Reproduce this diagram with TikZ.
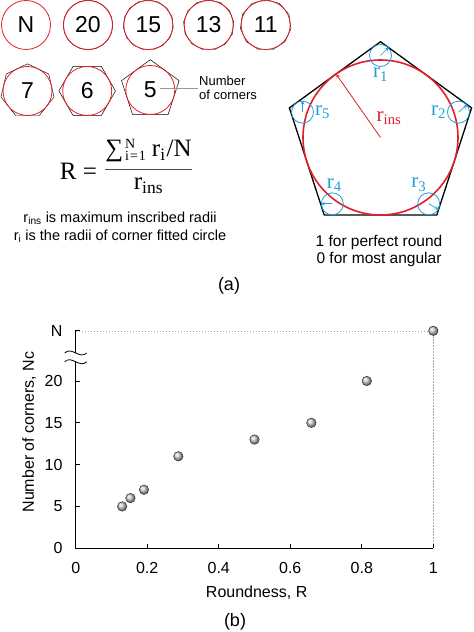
\documentclass[tikz,border=0pt]{standalone}
\usepackage{fontspec}
\setsansfont{Liberation Sans}
\newfontfamily\fmlfont{Liberation Serif}
\usetikzlibrary{calc,arrows,positioning}
\definecolor{ringred}{RGB}{226,30,38}
\definecolor{cornerblue}{RGB}{30,158,220}
\newcommand{\polyaround}[5]{% node, sides, start angle, inradius, width
  \pgfmathsetmacro{\polyrad}{#4/cos(180/#2)}
  \pgfmathtruncatemacro{\polylast}{#2-1}
  \draw[line width=#5, line join=miter] ($(#1)+(#3:\polyrad)$)
    \foreach \k in {1,...,\polylast} { -- ($(#1)+(#3+\k*360/#2:\polyrad)$) } -- cycle;
}
\tikzset{
  ringnode/.style={circle, draw=ringred, line width=0.8pt, minimum size=49pt, inner sep=0pt, font=\sffamily\fontsize{23}{23}\selectfont},
  cornercirc/.style={circle, draw=cornerblue, line width=0.8pt, minimum size=22pt, inner sep=0pt},
  cornerlab/.style={text=cornerblue, font=\fmlfont\fontsize{21}{21}\selectfont, inner sep=1pt},
  cornerarrow/.style={draw=cornerblue, line width=0.7pt, ->, >=stealth},
  fmla/.style={font=\fmlfont\fontsize{25}{25}\selectfont, inner sep=0pt},
  textlab/.style={font=\sffamily\fontsize{14.5}{17}\selectfont, align=center},
  ticklab/.style={font=\sffamily\fontsize{16}{16}\selectfont, inner sep=0pt},
  axisline/.style={draw=black, line width=0.8pt},
  guide/.style={draw=gray!70, line width=0.6pt, dash pattern=on 1.5pt off 1.5pt},
  datapt/.style={circle, draw=black!80, line width=0.5pt, ball color=gray!40, minimum size=9.5pt, inner sep=0pt}
}

\begin{document}
\begin{tikzpicture}[x=1pt, y=1pt]
  \useasboundingbox (0,0) rectangle (474,632);

  % (a) rings and polygons
  \coordinate (ringcN) at (26,607);
  \coordinate (ringc20) at (88,607);
  \coordinate (ringc15) at (148.3,607);
  \coordinate (ringc13) at (208.7,607);
  \coordinate (ringc11) at (265.7,607);
  \coordinate (ringc7) at (27.5,541);
  \coordinate (ringc6) at (87.2,541);
  \coordinate (ringc5) at (150.3,542);
  \foreach \n in {20,15,13,11,7} {\polyaround{ringc\n}{\n}{90}{24.5}{0.45pt}}
  \polyaround{ringc6}{6}{0}{24.5}{0.5pt}
  \polyaround{ringc5}{5}{90}{24.5}{0.5pt}
  \foreach \n in {N,20,15,13,11,7,6,5}
    \node[ringnode] (ring\n) at (ringc\n) {\n};

  \node[textlab, font=\sffamily\fontsize{13}{14.5}\selectfont, align=left, anchor=west, inner sep=1pt] (ncorner) at (198,544) {Number\\of corners};
  \coordinate (fivetail) at (159.5,544);
  \draw[gray!80, line width=0.6pt] (fivetail) -- (ncorner.west);

  % roundness formula
  \coordinate (barmid) at (148.5,463);
  \node[fmla, above=7pt] (numer) at (barmid) {∑\hspace{2pt}\raisebox{-4pt}{\fontsize{14}{16}\selectfont\shortstack[l]{N\\i\hspace{1pt}=\hspace{1pt}1}}\hspace{6pt}r\textsubscript{i}\hspace{1pt}/N};
  \node[fmla, below=9pt] (denom) at (barmid) {r\textsubscript{ins}};
  \draw[line width=0.6pt, black!70] (numer.west |- barmid) -- (numer.east |- barmid);
  \node[fmla, anchor=east, yshift=-2pt] (lhs) at ([xshift=-8pt]numer.west |- barmid) {R =};
  \node[textlab] (defins) at (120,414) {r\textsubscript{ins} is maximum inscribed radii};
  \node[textlab] (defri) at (120,396) {r\textsubscript{i} is the radii of corner fitted circle};

  % pentagon with inscribed circle
  \coordinate (pentc) at (380.5,494.5);
  \polyaround{pentc}{5}{90}{77.5}{1.3pt}
  \node[circle, draw=ringred, line width=1.6pt, minimum size=155pt, inner sep=0pt] (inscr) at (pentc) {};
  \foreach \a/\i/\d in {90/1/45, 18/2/40, -54/3/-30, -126/4/180, 162/5/90} {
    \node[cornercirc] (crn\i) at ($(pentc)+(\a:82)$) {};
    \draw[cornerarrow] (crn\i.center) -- (crn\i.\d);
  }
  \node[cornerlab, below=0pt of crn1] (lab1) {r\textsubscript{1}};
  \node[cornerlab, left=0pt of crn2] (lab2) {r\textsubscript{2}};
  \node[cornerlab, above=0pt of crn3, xshift=-10pt] (lab3) {r\textsubscript{3}};
  \node[cornerlab, above=0pt of crn4, xshift=2pt] (lab4) {r\textsubscript{4}};
  \node[cornerlab, right=0pt of crn5] (lab5) {r\textsubscript{5}};
  \node[cornerlab, text=ringred] (rinslab) at (389,514) {r\textsubscript{ins}};
  \draw[->, >=stealth, draw=ringred, line width=0.8pt, shorten >=1pt] (inscr.center) -- (inscr.125.5);

  \node[textlab, font=\sffamily\fontsize{15.5}{16.3}\selectfont] (roundnote) at (379,381) {1 for perfect round\\0 for most angular};
  \node[font=\sffamily\fontsize{18}{18}\selectfont] (capa) at (229,346) {(a)};

  % (b) roundness vs corners
  \begin{scope}[shift={(75.7,83.7)}, x=357.6pt, y=8.365pt]
    \coordinate (org) at (0,0);
    \coordinate (xend) at (1,0);
    \coordinate (ybrklo) at (0,22.3);
    \coordinate (ybrkhi) at (0,23.35);
    \coordinate (ytop) at (0,26);
    \coordinate (corner) at (1,26);
    \draw[guide] (ytop) -- (corner) -- (xend);
    \draw[axisline] (ybrklo) -- (org) -- (xend);
    \draw[axisline] (ybrkhi) -- (ytop) -- ++(4pt,0pt);
    \foreach \b in {ybrklo,ybrkhi}
      \draw[axisline] ($(\b)+(-11pt,0pt)$) .. controls +(7pt,7pt) and +(-7pt,-7pt) .. ($(\b)+(11pt,0pt)$);
    \foreach \v in {0.2,0.4,0.6,0.8,1} \draw[axisline] (\v,0) -- ++(0pt,4pt);
    \foreach \v in {5,10,15,20} \draw[axisline] (0,\v) -- ++(4pt,0pt);
    \foreach \v in {0,0.2,0.4,0.6,0.8,1} \node[ticklab, below=14pt] at (\v,0) {\v};
    \foreach \v in {0,5,10,15,20} \node[ticklab, left=13pt] at (0,\v) {\v};
    \node[ticklab, left=13pt] (ylabN) at (ytop) {N};
    \node[ticklab, below=37pt] (xtitle) at (0.506,0) {Roundness, R};
    \node[ticklab, rotate=90] (ytitle) at (-0.1306,13.9) {Number of corners, Nc};
    \foreach \r/\n [count=\c] in {0.13/5,0.153/6,0.191/7,0.287/11,0.50/13,0.659/15,0.814/20,1/26}
      \node[datapt] (pt\c) at (\r,\n) {};
  \end{scope}
  \node[font=\sffamily\fontsize{18}{18}\selectfont] (capb) at (235,10.3) {(b)};
\end{tikzpicture}
\end{document}
